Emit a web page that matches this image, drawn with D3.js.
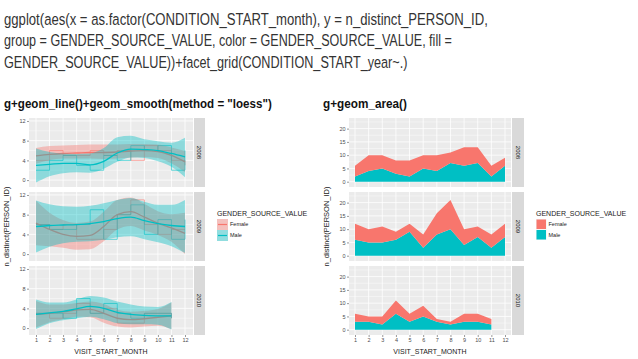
<!DOCTYPE html>
<html><head><meta charset="utf-8">
<script src="https://cdn.jsdelivr.net/npm/d3@7"></script>
<style>body{margin:0;background:#fff} svg{display:block}</style>
</head><body>
<svg id="c" width="638" height="359"></svg>
<script>
// ---------------- DATA ----------------
const months = [1,2,3,4,5,6,7,8,9,10,11,12];
const years = ["2008","2009","2010"];
const genders = ["Female","Male"];
const yTicksLeft = [0,4,8,12];
const yTicksRight = [0,5,10,15,20];

// counts (n_distinct PERSON_ID) per month
const female2008 = [4,6,5,5,6,5,6,4,7,6,4,3];
const male2008   = [2,4,5,3,2,5,4,7,6,7,2,6];
const female2009 = [6,5,6,3,3,5,8,11,6,4,5,5];
const male2009   = [6,5,5,6,9,3,8,10,4,7,3,7];
const female2010 = [3,2,3,5,3,4,1,1,3,3,2];
const male2010   = [3,3,2,6,3,5,3,2,3,3,2];

// loess fits and confidence bands
const fFit2008 = [4.9,5.2,5.4,5.5,5.6,5.6,5.7,5.9,6.0,5.8,5.0,3.7];
const fLo2008  = [3.3,4.1,4.4,4.4,4.4,4.3,4.4,4.6,4.7,4.5,3.4,1.6];
const fHi2008  = [6.5,6.9,7.0,7.1,7.2,7.2,7.2,7.3,7.3,7.2,6.6,5.9];
const mFit2008 = [3.0,3.2,3.4,3.4,3.1,3.8,5.5,6.3,6.2,6.0,5.4,4.7];
const mLo2008  = [-0.5,0.8,1.4,1.6,1.5,2.3,3.7,4.6,4.5,3.8,2.7,0.6];
const mHi2008  = [6.4,5.7,5.4,5.3,5.4,6.5,8.7,9.0,8.3,7.9,7.6,8.6];

const fFit2009 = [6.3,5.0,4.0,3.6,3.8,5.6,8.0,8.6,7.5,6.3,5.3,4.2];
const fLo2009  = [1.8,1.6,1.3,0.9,1.0,2.6,5.0,5.7,4.8,3.9,2.5,0.0];
const fHi2009  = [10.8,8.4,6.9,6.3,6.6,8.6,11.0,11.5,10.2,8.7,8.1,8.4];
const mFit2009 = [5.6,5.8,5.9,6.0,6.2,6.6,7.2,7.5,6.8,6.2,5.8,5.6];
const mLo2009  = [0.3,1.5,2.2,2.5,2.6,2.9,3.4,3.6,3.0,2.4,1.6,0.2];
const mHi2009  = [10.9,10.1,9.7,9.6,9.8,10.3,11.0,11.4,10.6,10.0,10.0,11.0];

const fFit2010 = [2.8,3.0,3.3,3.7,3.8,3.0,2.0,1.7,1.9,2.2,2.5];
const fLo2010  = [0.1,1.2,1.8,2.3,2.2,1.1,0.3,0.1,0.3,0.5,-0.2];
const fHi2010  = [5.5,4.8,4.8,5.1,5.4,4.9,3.7,3.3,3.5,3.9,5.2];
const mFit2010 = [2.8,3.1,3.4,3.9,4.4,4.0,3.2,2.8,2.6,2.5,2.5];
const mLo2010  = [-0.2,1.0,1.6,2.0,2.3,1.8,1.0,0.8,0.8,0.7,-0.3];
const mHi2010  = [5.8,5.2,5.2,5.8,6.5,6.2,5.4,4.8,4.4,4.3,5.3];

const titleLines = [
  "ggplot(aes(x = as.factor(CONDITION_START_month), y = n_distinct_PERSON_ID,",
  "group = GENDER_SOURCE_VALUE, color = GENDER_SOURCE_VALUE, fill =",
  "GENDER_SOURCE_VALUE))+facet_grid(CONDITION_START_year~.)"
];
const headingLeft = 'g+geom_line()+geom_smooth(method = "loess")';
const headingRight = "g+geom_area()";
const xTitle = "VISIT_START_MONTH";
const yTitle = "n_distinct(PERSON_ID)";
const legendTitle = "GENDER_SOURCE_VALUE";

// ---------------- BUILD TABLES ----------------
const counts = {
  "2008": {Female: female2008, Male: male2008},
  "2009": {Female: female2009, Male: male2009},
  "2010": {Female: female2010, Male: male2010}
};
const smooth = {
  "2008": {Female: [fFit2008,fLo2008,fHi2008], Male: [mFit2008,mLo2008,mHi2008]},
  "2009": {Female: [fFit2009,fLo2009,fHi2009], Male: [mFit2009,mLo2009,mHi2009]},
  "2010": {Female: [fFit2010,fLo2010,fHi2010], Male: [mFit2010,mLo2010,mHi2010]}
};
const color = d3.scaleOrdinal().domain(genders).range(["#F8766D","#00BFC4"]);

// ---------------- LAYOUT ----------------
const svg = d3.select("#c");
const panelsY = [[118,187],[192,261],[266,335]];
const L = {px0:29, px1:193, sx0:194, sx1:205, xr:[36,185]};
const R = {px0:349, px1:511, sx0:512, sx1:524, xr:[355,505]};

// title text: size chosen for glyph height, mildly condensed to the reference width
const tt = svg.append("g").attr("font-family","'Liberation Sans',Arial,sans-serif")
  .attr("fill","#333").attr("font-size",16.5);
const tY = [25,46.5,68], tW = [484,448,404];
titleLines.forEach((s,i)=>{
  const t = tt.append("text").attr("x",4).attr("y",tY[i]).text(s);
  const w = t.node().getComputedTextLength();
  t.attr("transform",`translate(4,0) scale(${(tW[i]/w).toFixed(4)},1) translate(-4,0)`);
});

function headText(x, s, target, size){
  const t = svg.append("text").attr("x",x).attr("y",108).attr("font-family","'Liberation Sans',sans-serif")
    .attr("font-weight","bold").attr("fill","#111").attr("font-size",size).text(s);
  const w = t.node().getComputedTextLength();
  t.attr("transform",`translate(${x},0) scale(${(target/w).toFixed(4)},1) translate(${-x},0)`);
}
headText(4, headingLeft, 268, 12);
headText(323, headingRight, 84, 12);

const FONT = "'Liberation Sans',Arial,sans-serif";

function panelBase(g, P, py, x, y, major, minor, label, xDomainVals){
  const [y0,y1] = py;
  g.append("rect").attr("x",P.px0).attr("y",y0).attr("width",P.px1-P.px0).attr("height",y1-y0).attr("fill","#EBEBEB");
  g.selectAll(null).data(minor).enter().append("line")
    .attr("x1",P.px0).attr("x2",P.px1).attr("y1",d=>y(d)).attr("y2",d=>y(d))
    .attr("stroke","#fff").attr("stroke-width",0.4);
  g.selectAll(null).data(major).enter().append("line")
    .attr("x1",P.px0).attr("x2",P.px1).attr("y1",d=>y(d)).attr("y2",d=>y(d))
    .attr("stroke","#fff").attr("stroke-width",0.8);
  g.selectAll(null).data(xDomainVals).enter().append("line")
    .attr("x1",d=>x(d)).attr("x2",d=>x(d)).attr("y1",y0).attr("y2",y1)
    .attr("stroke","#fff").attr("stroke-width",0.8);
  // strip
  g.append("rect").attr("x",P.sx0).attr("y",y0).attr("width",P.sx1-P.sx0).attr("height",y1-y0).attr("fill","#D9D9D9");
  g.append("text").attr("transform",`translate(${(P.sx0+P.sx1)/2},${(y0+y1)/2}) rotate(90)`)
    .attr("text-anchor","middle").attr("dy","0.35em").attr("font-family",FONT)
    .attr("font-size",6).attr("fill","#1A1A1A").text(label);
  // y axis
  const ax = g.append("g").attr("transform",`translate(${P.px0},0)`)
    .call(d3.axisLeft(y).tickValues(major).tickSize(2).tickPadding(1.5));
  styleAxis(ax);
}
function styleAxis(ax){
  ax.select(".domain").remove();
  ax.selectAll(".tick line").attr("stroke","#333").attr("stroke-width",0.5);
  ax.selectAll(".tick text").attr("font-family",FONT).attr("font-size",5.5).attr("fill","#4D4D4D");
}

// ---------------- LEFT: geom_line + geom_smooth ----------------
const xL = d3.scalePoint().domain(months).range(L.xr);
const gL = svg.append("g");
years.forEach((yr,i)=>{
  const py = panelsY[i];
  const y = d3.scaleLinear().domain([-1.4,12.6]).range([py[1],py[0]]);
  const g = gL.append("g");
  panelBase(g, L, py, xL, y, yTicksLeft, [2,6,10], yr, months);
  const clipId = "clipL"+i;
  g.append("clipPath").attr("id",clipId).append("rect")
    .attr("x",L.px0).attr("y",py[0]).attr("width",L.px1-L.px0).attr("height",py[1]-py[0]);
  const gc = g.append("g").attr("clip-path",`url(#${clipId})`);
  // geom_line
  genders.forEach(gd=>{
    const vals = counts[yr][gd];
    const line = d3.line().x((d,j)=>xL(months[j])).y(d=>y(d)).curve(d3.curveStepAfter);
    gc.append("path").attr("d",line(vals)).attr("fill","none")
      .attr("stroke",color(gd)).attr("stroke-width",0.6);
  });
  // geom_smooth (ribbon then line, per group)
  genders.forEach(gd=>{
    const [fit,lo,hi] = smooth[yr][gd];
    const rows = fit.map((f,j)=>({m:months[j], f, lo:lo[j], hi:hi[j]}));
    const area = d3.area().x(d=>xL(d.m)).y0(d=>y(d.lo)).y1(d=>y(d.hi)).curve(d3.curveMonotoneX);
    gc.append("path").attr("d",area(rows)).attr("fill",color(gd)).attr("fill-opacity",0.4);
    const line = d3.line().x(d=>xL(d.m)).y(d=>y(d.f)).curve(d3.curveMonotoneX);
    gc.append("path").attr("d",line(rows)).attr("fill","none")
      .attr("stroke",color(gd)).attr("stroke-width",1.3);
  });
});
const axL = svg.append("g").attr("transform",`translate(0,${panelsY[2][1]})`)
  .call(d3.axisBottom(xL).tickSize(2).tickPadding(1.5));
styleAxis(axL);

// ---------------- RIGHT: geom_area ----------------
const xR = d3.scalePoint().domain(months).range(R.xr);
const gR = svg.append("g");
years.forEach((yr,i)=>{
  const py = panelsY[i];
  const y = d3.scaleLinear().domain([-2,24]).range([py[1],py[0]]);
  const g = gR.append("g");
  panelBase(g, R, py, xR, y, yTicksRight, [2.5,7.5,12.5,17.5,22.5], yr, months);
  const fem = counts[yr].Female, mal = counts[yr].Male;
  const table = fem.map((v,j)=>({month:months[j], Female:v, Male:mal[j]}));
  const stacked = d3.stack().keys(["Male","Female"])(table);
  const area = d3.area().x(d=>xR(d.data.month)).y0(d=>y(d[0])).y1(d=>y(d[1]));
  g.selectAll(null).data(stacked).enter().append("path")
    .attr("d",area).attr("fill",d=>color(d.key));
});
const axR = svg.append("g").attr("transform",`translate(0,${panelsY[2][1]})`)
  .call(d3.axisBottom(xR).tickSize(2).tickPadding(1.5));
styleAxis(axR);

// axis titles
[[L,9],[R,329]].forEach(([P,tx])=>{
  svg.append("text").attr("x",(P.px0+P.px1)/2).attr("y",354).attr("text-anchor","middle")
    .attr("font-family",FONT).attr("font-size",7).attr("fill","#1A1A1A").text(xTitle);
  svg.append("text").attr("transform",`translate(${tx},${(panelsY[0][0]+panelsY[2][1])/2}) rotate(-90)`)
    .attr("text-anchor","middle").attr("font-family",FONT).attr("font-size",7.5)
    .attr("fill","#1A1A1A").text(yTitle);
});

// ---------------- LEGENDS ----------------
function legend(x0, yTitleBase, keyTop, keyH, smoothKey){
  const g = svg.append("g");
  g.append("text").attr("x",x0).attr("y",yTitleBase).attr("font-family",FONT)
    .attr("font-size",7).attr("fill","#1A1A1A").text(legendTitle);
  genders.forEach((gd,k)=>{
    const ky = keyTop + k*keyH;
    g.append("rect").attr("x",x0).attr("y",ky).attr("width",keyH).attr("height",keyH).attr("fill","#F2F2F2");
    if(smoothKey){
      g.append("rect").attr("x",x0).attr("y",ky).attr("width",keyH).attr("height",keyH)
        .attr("fill",color(gd)).attr("fill-opacity",0.4);
      g.append("line").attr("x1",x0+1).attr("x2",x0+keyH-1).attr("y1",ky+keyH/2).attr("y2",ky+keyH/2)
        .attr("stroke",color(gd)).attr("stroke-width",1.2);
    } else {
      g.append("rect").attr("x",x0+0.5).attr("y",ky+0.5).attr("width",keyH-1).attr("height",keyH-1).attr("fill",color(gd));
    }
    g.append("text").attr("x",x0+keyH+2).attr("y",ky+keyH/2).attr("dy","0.35em")
      .attr("font-family",FONT).attr("font-size",5.5).attr("fill","#1A1A1A").text(gd);
  });
}
legend(217, 216, 219, 11, true);
legend(536, 216, 219, 10.5, false);
</script>
</body></html>
